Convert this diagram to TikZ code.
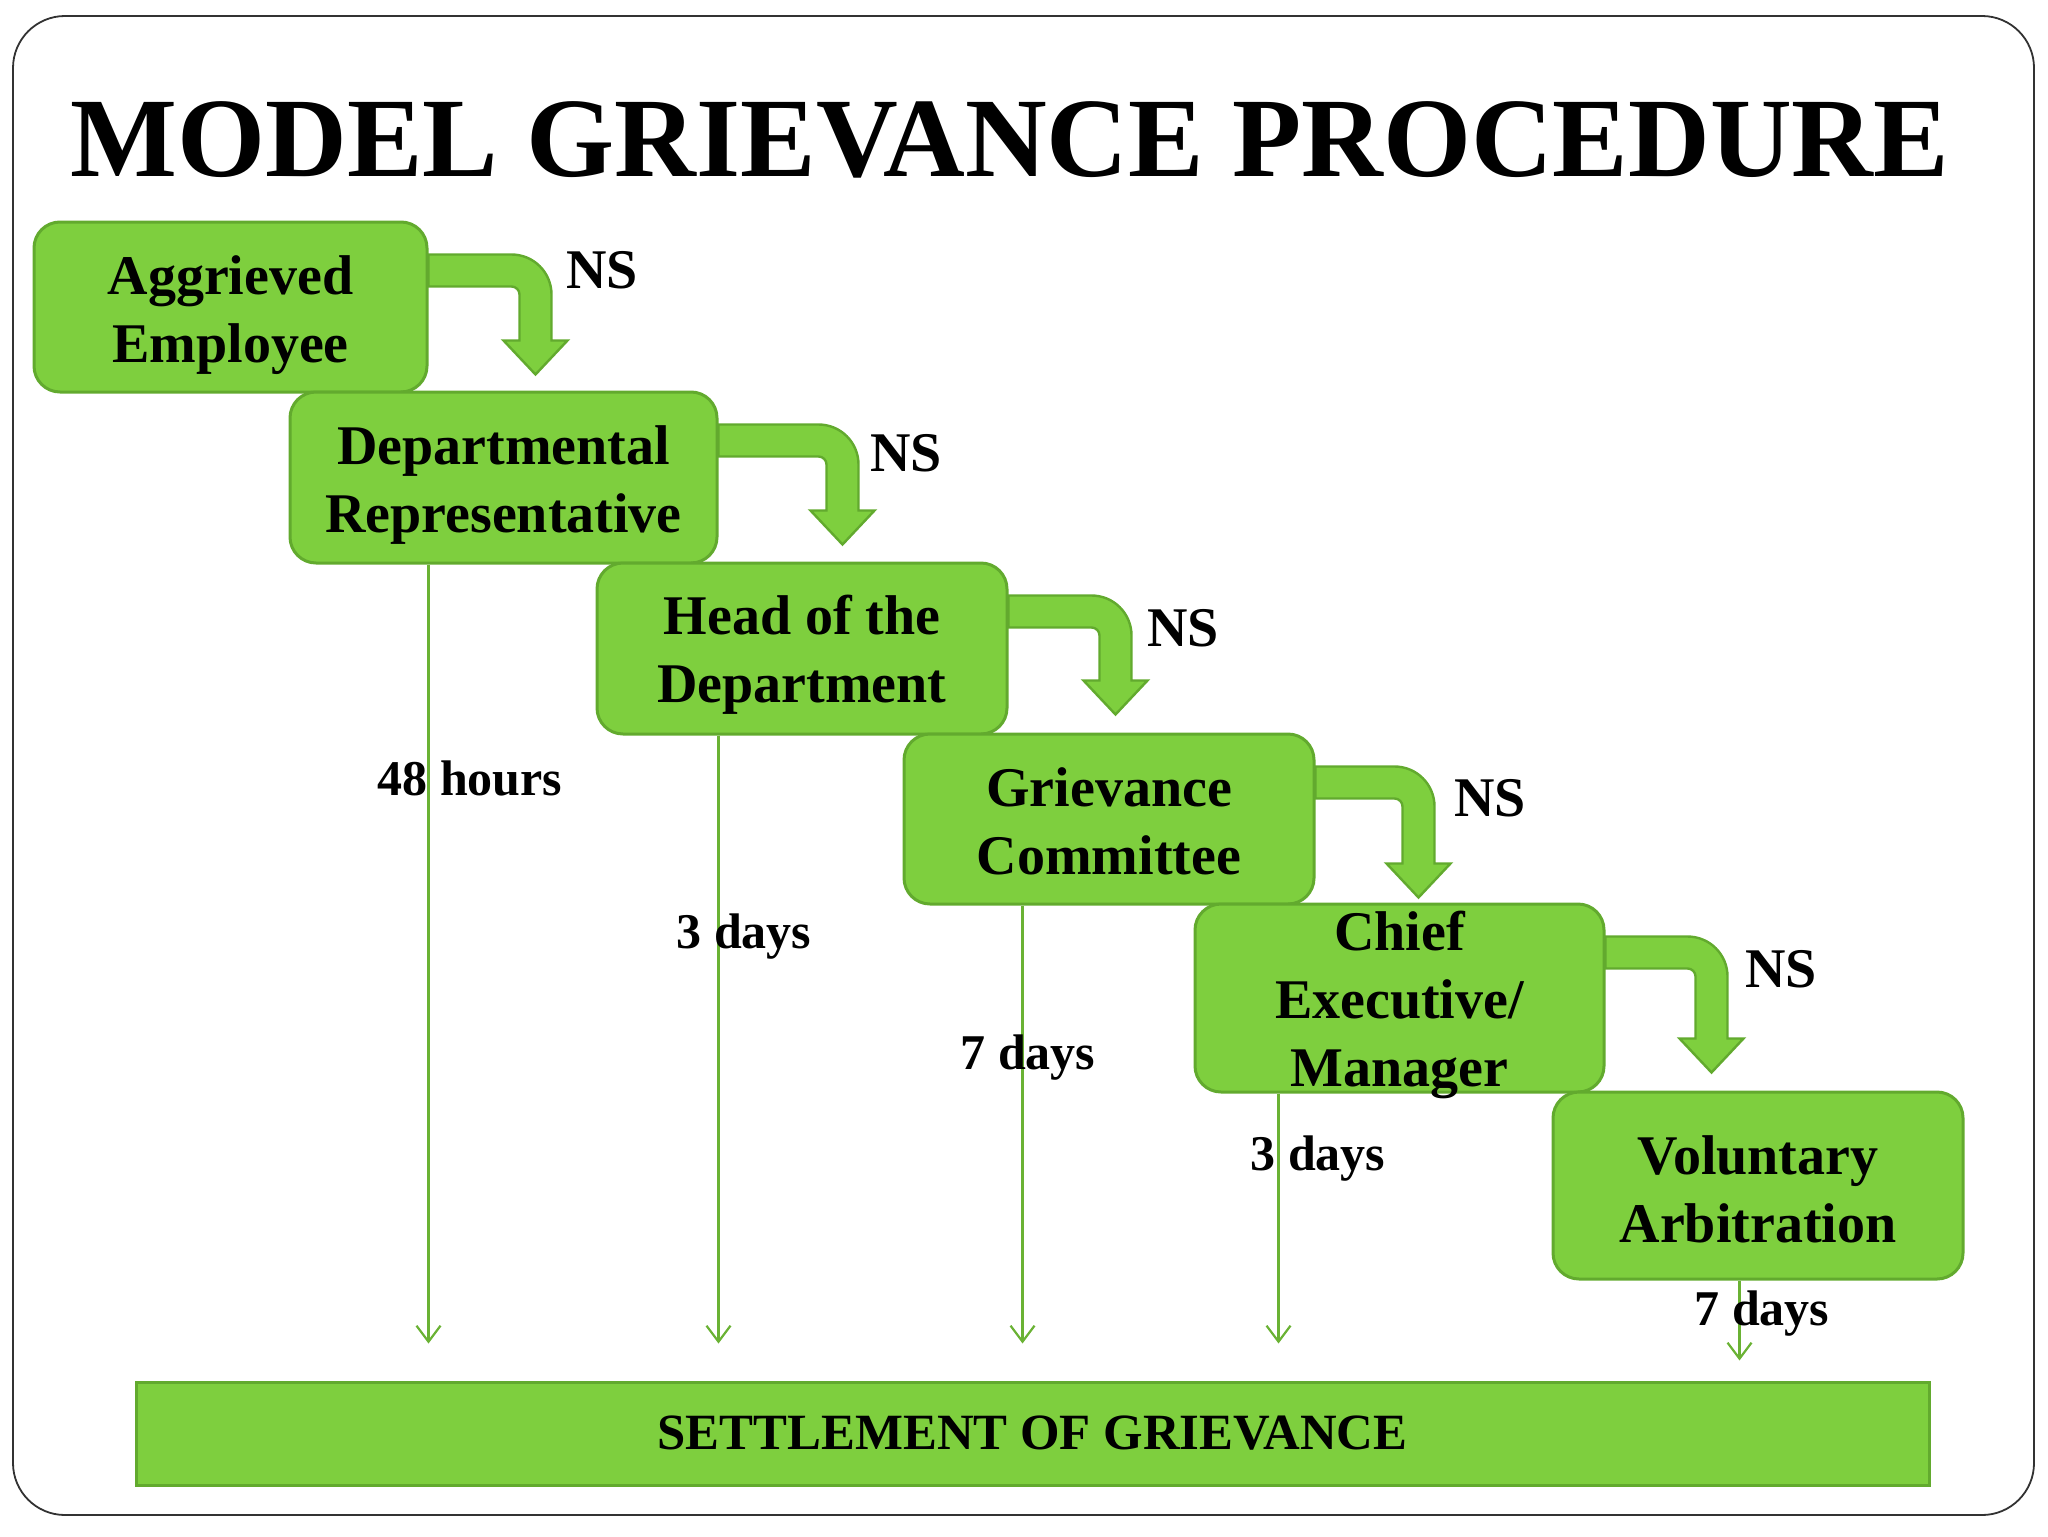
\documentclass[tikz,border=0pt]{standalone}
\usepackage{fontspec}
\setmainfont{Liberation Serif}
\usetikzlibrary{arrows.meta,calc,backgrounds}
\definecolor{gfill}{RGB}{126,207,62}
\definecolor{gline}{RGB}{98,170,46}
\definecolor{garrow}{RGB}{106,178,52}
\definecolor{framecol}{RGB}{50,50,50}
\tikzset{
  stepbox/.style={draw=gline, fill=gfill, line width=1.5pt, rounded corners=13pt, inner sep=0pt},
  boxtext/.style={align=center, inner sep=0pt, font=\bfseries\fontsize{28}{34}\selectfont},
  nslabel/.style={font=\bfseries\fontsize{28}{34}\selectfont},
  timelabel/.style={font=\bfseries\fontsize{25}{30}\selectfont},
  bentstyle/.style={draw=gline, fill=gfill, line width=1.2pt, line join=miter},
  downarrow/.style={draw=garrow, line width=1.1pt, -{Straight Barb[length=8pt,width=12pt,line width=1.1pt]}},
}
\newcommand\bentarrow[4]{%
  \path[bentstyle] let \p1=(#1.north east), \p2=(#2.north) in
   (\x1,\y1-17pt) -- (\x1+#3-12pt,\y1-17pt)
   arc[start angle=90,end angle=0,radius=20pt]
   -- (\x1+#3+8pt,\y2+#4+17pt) -- (\x1+#3+16pt,\y2+#4+17pt)
   -- (\x1+#3,\y2+#4)
   -- (\x1+#3-16pt,\y2+#4+17pt) -- (\x1+#3-8pt,\y2+#4+17pt)
   -- (\x1+#3-8pt,\y1-37pt)
   arc[start angle=0,end angle=90,radius=4pt]
   -- (\x1,\y1-33pt) -- cycle;}
\begin{document}
\begin{tikzpicture}[x=0.5pt,y=-0.5pt]
\useasboundingbox (0,0) rectangle (2048,1536);
\draw[framecol, line width=0.9pt, rounded corners=26pt] (13,16) rectangle (2034,1515);
\node (title) [anchor=base, font=\bfseries\fontsize{56.6}{60}\selectfont] at (1010,176) {MODEL GRIEVANCE PROCEDURE};

\node (b1) [stepbox, minimum width=196.5pt, minimum height=85pt] at (230.5,307) {};
\node (b2) [stepbox, minimum width=213.5pt, minimum height=85.5pt] at (503.5,477.5) {};
\node (b3) [stepbox, minimum width=205pt, minimum height=85.5pt] at (802,648.5) {};
\node (b4) [stepbox, minimum width=205pt, minimum height=85pt] at (1109,819) {};
\node (b5) [stepbox, minimum width=204.5pt, minimum height=94pt] at (1399.5,998) {};
\node (b6) [stepbox, minimum width=205pt, minimum height=93.5pt] at (1758,1185.5) {};
\node (b1t) [boxtext] at ([yshift=-4pt]b1.center) {Aggrieved\\Employee};
\node (b2t) [boxtext] at ([yshift=-4pt]b2.center) {Departmental\\Representative};
\node (b3t) [boxtext] at ([yshift=-3.3pt]b3.center) {Head of the\\Department};
\node (b4t) [boxtext] at ([yshift=-1.3pt]b4.center) {Grievance\\Committee};
\node (b5t) [boxtext] at ([yshift=-3.3pt]b5.center) {Chief\\Executive/\\Manager};
\node (b6t) [boxtext] at ([yshift=-2pt]b6.center) {Voluntary\\Arbitration};
\node (settle) [draw=gline, fill=gfill, line width=1.5pt, inner sep=0pt, minimum width=896.5pt, minimum height=51.5pt,
  font=\bfseries\fontsize{25.4}{30}\selectfont] at (1032.5,1433.5) {\raisebox{-1pt}{SETTLEMENT OF GRIEVANCE}};

\node (ns1) [nslabel] at (602,270) {NS};
\node (ns2) [nslabel] at (906,453) {NS};
\node (ns3) [nslabel] at (1183,628) {NS};
\node (ns4) [nslabel] at (1490,798) {NS};
\node (ns5) [nslabel] at (1781,969) {NS};

\begin{pgfonlayer}{background}
\bentarrow{b1}{b2}{53.5pt}{8pt}
\bentarrow{b2}{b3}{62pt}{8.5pt}
\bentarrow{b3}{b4}{53.5pt}{9pt}
\bentarrow{b4}{b5}{51.5pt}{2.5pt}
\bentarrow{b5}{b6}{53pt}{9pt}
\end{pgfonlayer}

\coordinate (a3) at ($(b4.south west)+(120,0)$);
\coordinate (a4) at ($(b5.south west)+(85,0)$);
\coordinate (a5) at ($(b6.south west)+(188,0)$);
\draw[downarrow, shorten >=18.5pt] (b1.east |- b2.south) -- (b1.east |- settle.north);
\draw[downarrow, shorten >=18.5pt] (b2.east |- b3.south) -- (b2.east |- settle.north);
\draw[downarrow, shorten >=18.5pt] (a3) -- (a3 |- settle.north);
\draw[downarrow, shorten >=18.5pt] (a4) -- (a4 |- settle.north);
\draw[downarrow, shorten >=10pt] (a5) -- (a5 |- settle.north);

\node (t1) [timelabel] at (470,778) {48 hours};
\node (t2) [timelabel] at (744,937) {3 days};
\node (t3) [timelabel] at (1028,1058) {7 days};
\node (t4) [timelabel] at (1318,1159) {3 days};
\node (t5) [timelabel] at (1762,1314) {7 days};
\end{tikzpicture}
\end{document}
